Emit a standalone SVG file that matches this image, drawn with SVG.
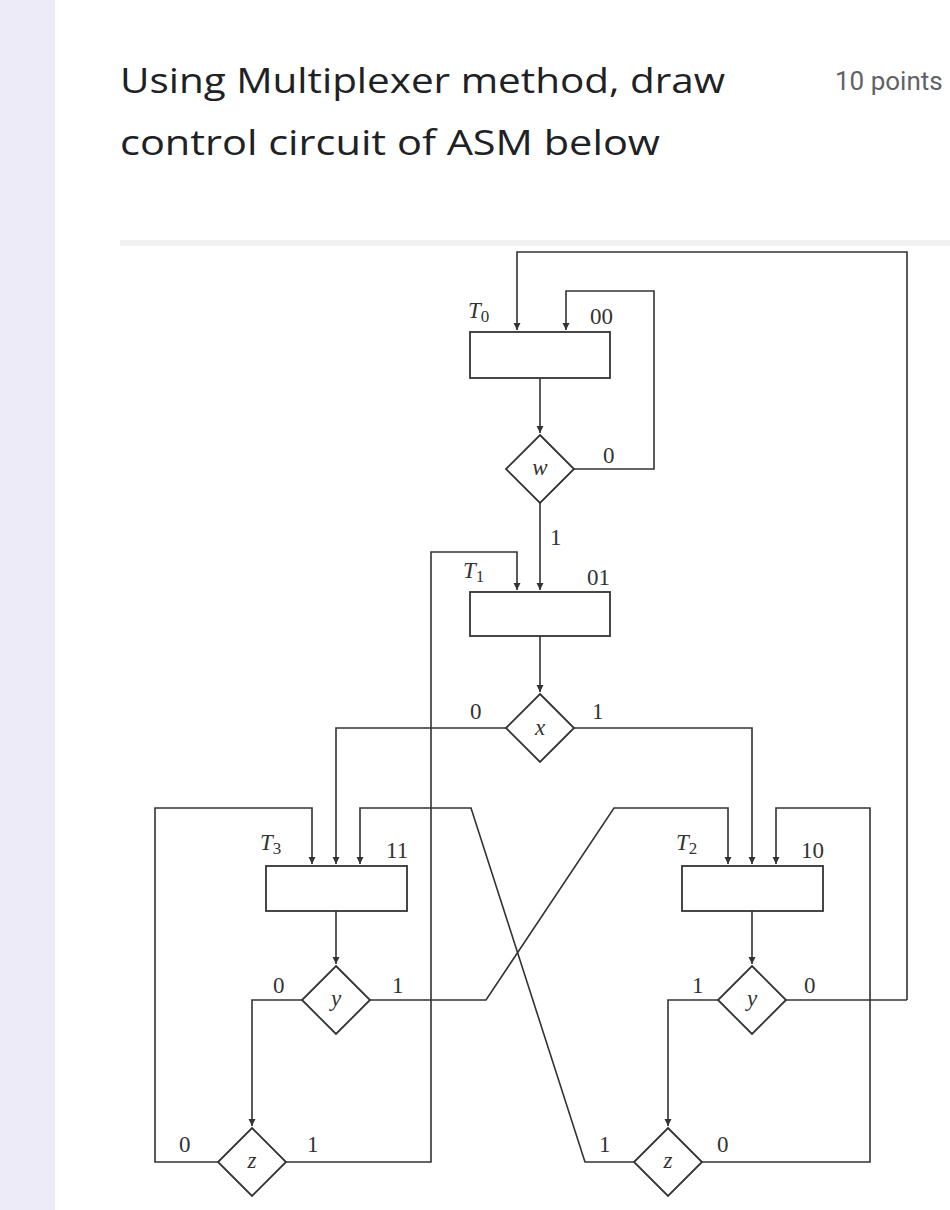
<svg xmlns="http://www.w3.org/2000/svg" width="950" height="1210" viewBox="0 0 950 1210">
<style>
.ln{fill:none;stroke:#333;stroke-width:1.6}
.bx{fill:#fff;stroke:#333;stroke-width:1.8}
.lb{font-family:"Liberation Serif",serif;font-size:23px;fill:#333}
.it{font-style:italic}
.ttl{font-family:"Open Sans","Liberation Sans",sans-serif;font-size:35px;fill:#202124}
</style>
<defs>
<marker id="ar" viewBox="0 0 10 10" refX="10" refY="5" markerWidth="7" markerHeight="9" orient="auto" markerUnits="userSpaceOnUse"><path d="M0,0L10,5L0,10z" fill="#333"/></marker>
</defs>
<rect width="950" height="1210" fill="#fff"/>
<rect width="55" height="1210" fill="#ecebf7"/>
<text class="ttl" x="120" y="93" textLength="605" lengthAdjust="spacingAndGlyphs">Using Multiplexer method, draw</text>
<text class="ttl" x="120" y="155" textLength="540" lengthAdjust="spacingAndGlyphs">control circuit of ASM below</text>
<text x="835" y="90" font-family="Roboto,'Liberation Sans',sans-serif" font-size="26" fill="#5f6368">10 points</text>
<rect x="120" y="240" width="830" height="6" fill="#f1f1f1"/>
<g id="connectors">
<path class="ln" d="M907,1000V252H517V330" marker-end="url(#ar)"/>
<path class="ln" d="M574,469H654V291H566V330" marker-end="url(#ar)"/>
<path class="ln" d="M540,378V433" marker-end="url(#ar)"/>
<path class="ln" d="M540,503V590" marker-end="url(#ar)"/>
<path class="ln" d="M286,1162H431V552H517V590" marker-end="url(#ar)"/>
<path class="ln" d="M540,636V692" marker-end="url(#ar)"/>
<path class="ln" d="M506,728H336V864" marker-end="url(#ar)"/>
<path class="ln" d="M574,728H752V864" marker-end="url(#ar)"/>
<path class="ln" d="M218,1162H155V808H312V864" marker-end="url(#ar)"/>
<path class="ln" d="M634,1162H585L471,808H360V864" marker-end="url(#ar)"/>
<path class="ln" d="M336,911V964" marker-end="url(#ar)"/>
<path class="ln" d="M302,1000H252V1126" marker-end="url(#ar)"/>
<path class="ln" d="M370,1000H486L614,808H728V864" marker-end="url(#ar)"/>
<path class="ln" d="M702,1162H870V808H776V864" marker-end="url(#ar)"/>
<path class="ln" d="M752,911V964" marker-end="url(#ar)"/>
<path class="ln" d="M786,1000H907"/>
<path class="ln" d="M718,1000H668V1126" marker-end="url(#ar)"/>
</g>
<g id="T0"><rect class="bx" x="470" y="332" width="140" height="46"/><text class="lb it" x="468" y="318" font-size="25">T<tspan font-size="17" dy="4" font-style="normal">0</tspan></text><text class="lb" x="590" y="324">00</text></g>
<g id="w"><path class="bx" d="M540,435L574,469L540,503L506,469z"/><text class="lb it" x="540" y="475" text-anchor="middle" font-size="19">w</text><text class="lb" x="603" y="463">0</text><text class="lb" x="550" y="545">1</text></g>
<g id="T1"><rect class="bx" x="470" y="592" width="140" height="44"/><text class="lb it" x="463" y="578" font-size="25">T<tspan font-size="17" dy="4" font-style="normal">1</tspan></text><text class="lb" x="587" y="585">01</text></g>
<g id="x"><path class="bx" d="M540,694L574,728L540,762L506,728z"/><text class="lb it" x="540" y="735" text-anchor="middle" font-size="19">x</text><text class="lb" x="470" y="719">0</text><text class="lb" x="592" y="719">1</text></g>
<g id="T3"><rect class="bx" x="266" y="866" width="141" height="45"/><text class="lb it" x="260" y="850" font-size="25">T<tspan font-size="17" dy="4" font-style="normal">3</tspan></text><text class="lb" x="386" y="858">11</text></g>
<g id="y3"><path class="bx" d="M336,966L370,1000L336,1034L302,1000z"/><text class="lb it" x="336" y="1006" text-anchor="middle" font-size="19">y</text><text class="lb" x="273" y="993">0</text><text class="lb" x="392" y="993">1</text></g>
<g id="z3"><path class="bx" d="M252,1128L286,1162L252,1196L218,1162z"/><text class="lb it" x="252" y="1168" text-anchor="middle" font-size="19">z</text><text class="lb" x="179" y="1152">0</text><text class="lb" x="307" y="1152">1</text></g>
<g id="T2"><rect class="bx" x="682" y="866" width="141" height="45"/><text class="lb it" x="676" y="850" font-size="25">T<tspan font-size="17" dy="4" font-style="normal">2</tspan></text><text class="lb" x="801" y="858">10</text></g>
<g id="y2"><path class="bx" d="M752,966L786,1000L752,1034L718,1000z"/><text class="lb it" x="752" y="1006" text-anchor="middle" font-size="19">y</text><text class="lb" x="692" y="993">1</text><text class="lb" x="804" y="993">0</text></g>
<g id="z2"><path class="bx" d="M668,1128L702,1162L668,1196L634,1162z"/><text class="lb it" x="668" y="1168" text-anchor="middle" font-size="19">z</text><text class="lb" x="599" y="1152">1</text><text class="lb" x="717" y="1152">0</text></g>
</svg>
